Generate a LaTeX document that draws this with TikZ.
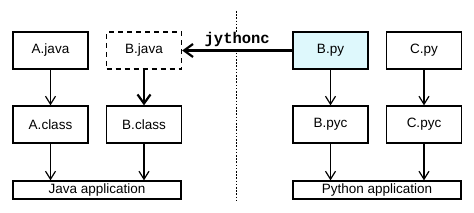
\documentclass[tikz,border=0pt]{standalone}
\usepackage{fontspec}
\setmainfont{Liberation Sans}
\newfontfamily\jmono{Liberation Mono}
\usetikzlibrary{arrows.meta}
\definecolor{pyfill}{RGB}{222,248,252}
\begin{document}
\begin{tikzpicture}[x=1pt,y=-1pt,
  filebox/.style={draw, line width=1.3pt, minimum width=75pt, minimum height=37pt, inner sep=0pt, font=\fontsize{13.5}{15}\selectfont},
  appbox/.style={draw, line width=1.3pt, minimum width=168pt, minimum height=18pt, inner sep=0pt, font=\fontsize{13.5}{15}\selectfont},
  thinarrow/.style={line width=1.2pt, -{Straight Barb[length=8pt,width=10pt,line width=1.2pt]}},
  thickarrow/.style={line width=2.6pt, -{Straight Barb[length=9pt,width=13pt,line width=2.2pt]}}
]
\useasboundingbox (0,0) rectangle (474,213);
\node[filebox] (ajava) at (50.5,50.5) {A.java};
\node[filebox, dashed, dash pattern=on 5pt off 4pt] (bjava) at (144,50.5) {B.java};
\node[filebox] (aclass) at (50.5,124.5) {A.class};
\node[filebox] (bclass) at (144,124.5) {B.class};
\node[appbox] (japp) at (97,190) {Java application};
\node[filebox, fill=pyfill] (bpy) at (330.5,50.5) {B.py};
\node[filebox] (cpy) at (424,50.5) {C.py};
\node[filebox] (bpyc) at (330.5,124.5) {B.pyc};
\node[filebox] (cpyc) at (424,124.5) {C.pyc};
\node[appbox] (papp) at (377,190) {Python application};
\coordinate (dtop) at (236.5,11);
\coordinate (dbot) at (236.5,201);
\draw[line width=1.6pt, dash pattern=on 1.6pt off 1.6pt] (dtop) -- (dbot);
\draw[thinarrow] (ajava) -- (aclass);
\draw[thickarrow] (bjava) -- (bclass);
\draw[thinarrow] (aclass.south) -- (aclass.south |- japp.north);
\draw[thinarrow] (bclass.south) -- (bclass.south |- japp.north);
\draw[thinarrow] (bpy) -- (bpyc);
\draw[thinarrow] (cpy) -- (cpyc);
\draw[thinarrow] (bpyc.south) -- (bpyc.south |- papp.north);
\draw[thinarrow] (cpyc.south) -- (cpyc.south |- papp.north);
\draw[thickarrow] (bpy) -- node[pos=0.5, above=1pt, font=\jmono\bfseries\fontsize{15.5}{17}\selectfont, inner sep=1pt, fill=white] (jlabel) {jythonc} (bjava);
\end{tikzpicture}
\end{document}
